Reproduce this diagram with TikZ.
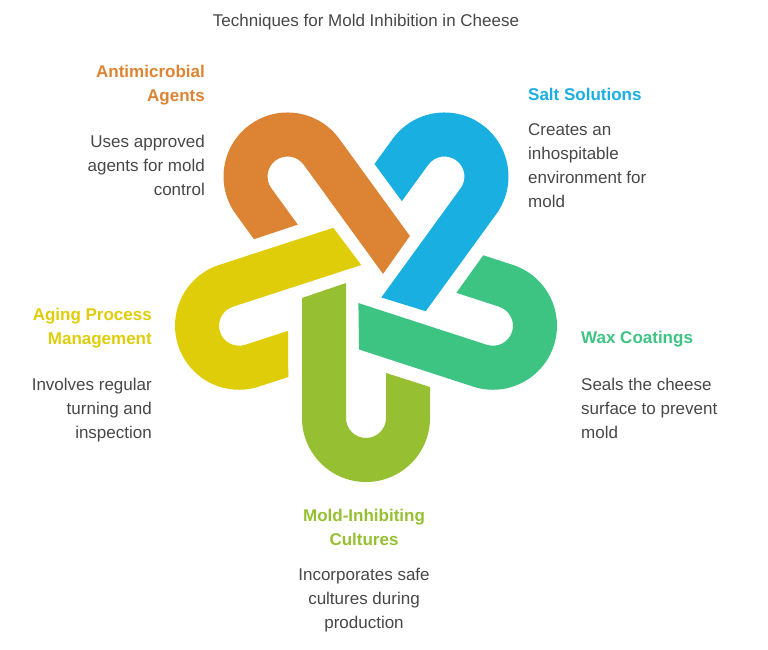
\documentclass[tikz,border=0pt]{standalone}
\usepackage{fontspec}
\setmainfont{Liberation Sans}
\begin{document}
\begin{tikzpicture}[x=1pt,y=1pt,
  hd/.style={font=\fontsize{17}{24}\selectfont\bfseries,inner sep=0pt},
  ds/.style={font=\fontsize{17}{24}\selectfont,text=black!72,inner sep=0pt}]
\definecolor{cOr}{HTML}{DC8433}
\definecolor{cBl}{HTML}{19AFE1}
\definecolor{cGr}{HTML}{3DC483}
\definecolor{cYe}{HTML}{E0CD0A}
\definecolor{cLi}{HTML}{96C032}
\useasboundingbox (0,0) rectangle (768,650);
\newcommand\hairpin[2]{\begin{scope}[shift={(366,365.5)},rotate=#1]
\fill[#2] (-64,-13.5) -- (-64,-133.5) arc[start angle=180,end angle=360,radius=64]
  -- (64,-102.5) -- (20,-88.5) -- (20,-133.5) arc[start angle=0,end angle=-180,radius=20]
  -- (-20,1.5) -- cycle;
\end{scope}}
\hairpin{0}{cLi}
\hairpin{-72}{cYe}
\hairpin{-144}{cOr}
\hairpin{-216}{cBl}
\hairpin{-288}{cGr}
\node[font=\fontsize{17}{20}\selectfont,text=black!72,inner sep=0pt] (title) at (366,628) {Techniques for Mold Inhibition in Cheese};
\node[hd,text=cOr,align=right,anchor=north east] (h1) at (205,585) {Antimicrobial\\Agents};
\node[ds,align=right,anchor=north east] (d1) at (205,515) {Uses approved\\agents for mold\\control};
\node[hd,text=cBl,align=left,anchor=north west] (h2) at (528,562) {Salt Solutions};
\node[ds,align=left,anchor=north west] (d2) at (528,527) {Creates an\\inhospitable\\environment for\\mold};
\node[hd,text=cGr,align=left,anchor=north west] (h3) at (581,319) {Wax Coatings};
\node[ds,align=left,anchor=north west] (d3) at (581,272) {Seals the cheese\\surface to prevent\\mold};
\node[hd,text=cYe,align=right,anchor=north east] (h4) at (152,342) {Aging Process\\Management};
\node[ds,align=right,anchor=north east] (d4) at (152,272) {Involves regular\\turning and\\inspection};
\node[hd,text=cLi,align=center,anchor=north] (h5) at (364,141) {Mold-Inhibiting\\Cultures};
\node[ds,align=center,anchor=north] (d5) at (364,82) {Incorporates safe\\cultures during\\production};
\end{tikzpicture}
\end{document}
